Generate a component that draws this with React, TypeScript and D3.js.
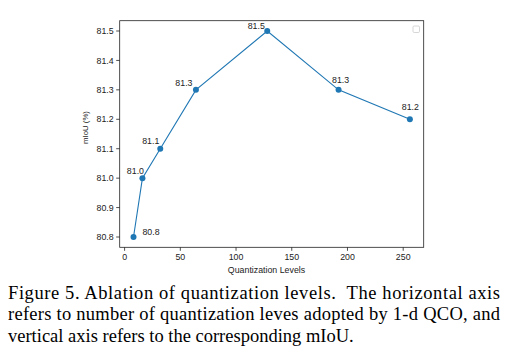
import * as d3 from 'd3'

const levels = [8, 16, 32, 64, 128, 192, 256]
const miou = [80.8, 81.0, 81.1, 81.3, 81.5, 81.3, 81.2]
const xTicks = [0, 50, 100, 150, 200, 250]
const yTicks = [80.8, 80.9, 81.0, 81.1, 81.2, 81.3, 81.4, 81.5]
// label offsets (px) relative to each point, as placed in the figure
const labelDx = [17.5, -7, -9.5, -12, -11, 2, 0.5]
const labelDy = [-5, -7, -8, -7, -5, -10, -12]

const captionLines = [
  'Figure 5. Ablation of quantization levels.  The horizontal axis',
  'refers to number of quantization leves adopted by 1-d QCO, and',
  'vertical axis refers to the corresponding mIoU.',
]

const width = 507,
      height = 353,
      left = 119.7, right = 423.7, top = 20.7, bottom = 247.3,
      blue = '#1f77b4',
      font = 'Liberation Sans, Arial, sans-serif',
      fs = 8.8

const xPad = (d3.max(levels)! - d3.min(levels)!) * 0.05
const yPad = (d3.max(miou)! - d3.min(miou)!) * 0.05

const x = d3.scaleLinear()
  .domain([d3.min(levels)! - xPad, d3.max(levels)! + xPad])
  .range([left, right])

const y = d3.scaleLinear()
  .domain([d3.min(miou)! - yPad, d3.max(miou)! + yPad])
  .range([bottom, top])

const line = d3.line<number>()
  .x((d, i) => x(levels[i]))
  .y(d => y(d))

export default function App() {
  return (
    <div style={{ position: 'absolute', left: 0, top: 0 }}>
      <svg width={width} height={height} style={{ background: '#fff', display: 'block' }}>
        <g fontFamily={font} fontSize={fs} fill='#222'>
          {xTicks.map(t =>
            <g key={t} transform={`translate(${x(t)},${bottom})`}>
              <line y1='0' y2='3.5' stroke='#222' strokeWidth='0.8' />
              <text y='13' textAnchor='middle'>{t}</text>
            </g>
          )}
          {yTicks.map(t =>
            <g key={t} transform={`translate(${left},${y(t)})`}>
              <line x1='-3.5' x2='0' stroke='#222' strokeWidth='0.8' />
              <text x='-6' dy='3.2' textAnchor='end'>{t.toFixed(1)}</text>
            </g>
          )}
          <text x='266.5' y='273' textAnchor='middle'>Quantization Levels</text>
          <text transform='translate(88.3,127.5) rotate(-90)' textAnchor='middle' fontSize='7.8'>mIoU (%)</text>
        </g>

        <rect x={left} y={top} width={right - left} height={bottom - top}
          fill='none' stroke='#222' strokeWidth='0.8' />

        <rect x='413' y='26' width='6.5' height='6.5' rx='1.2'
          fill='#fff' stroke='#ccc' strokeWidth='0.8' />

        <path d={line(miou) ?? ''} fill='none' stroke={blue} strokeWidth='1.1' />
        {miou.map((v, i) =>
          <circle key={i} cx={x(levels[i])} cy={y(v)} r='3' fill={blue} />
        )}
        <g fontFamily={font} fontSize={fs} fill='#222'>
          {miou.map((v, i) =>
            <text key={i} x={x(levels[i]) + labelDx[i]} y={y(v) + labelDy[i] + 3.2}
              textAnchor='middle'>{v.toFixed(1)}</text>
          )}
        </g>

        <g fontFamily='Liberation Serif, Times New Roman, serif' fontSize='18.5' fill='#000'>
          {captionLines.map((s, i) =>
            i < captionLines.length - 1
              ? <text key={i} x='8' y={298.5 + i * 21.6} textLength='492' lengthAdjust='spacing'
                  style={{ whiteSpace: 'pre' }}>{s}</text>
              : <text key={i} x='8' y={298.5 + i * 21.6}>{s}</text>
          )}
        </g>
      </svg>
    </div>
  )
}
